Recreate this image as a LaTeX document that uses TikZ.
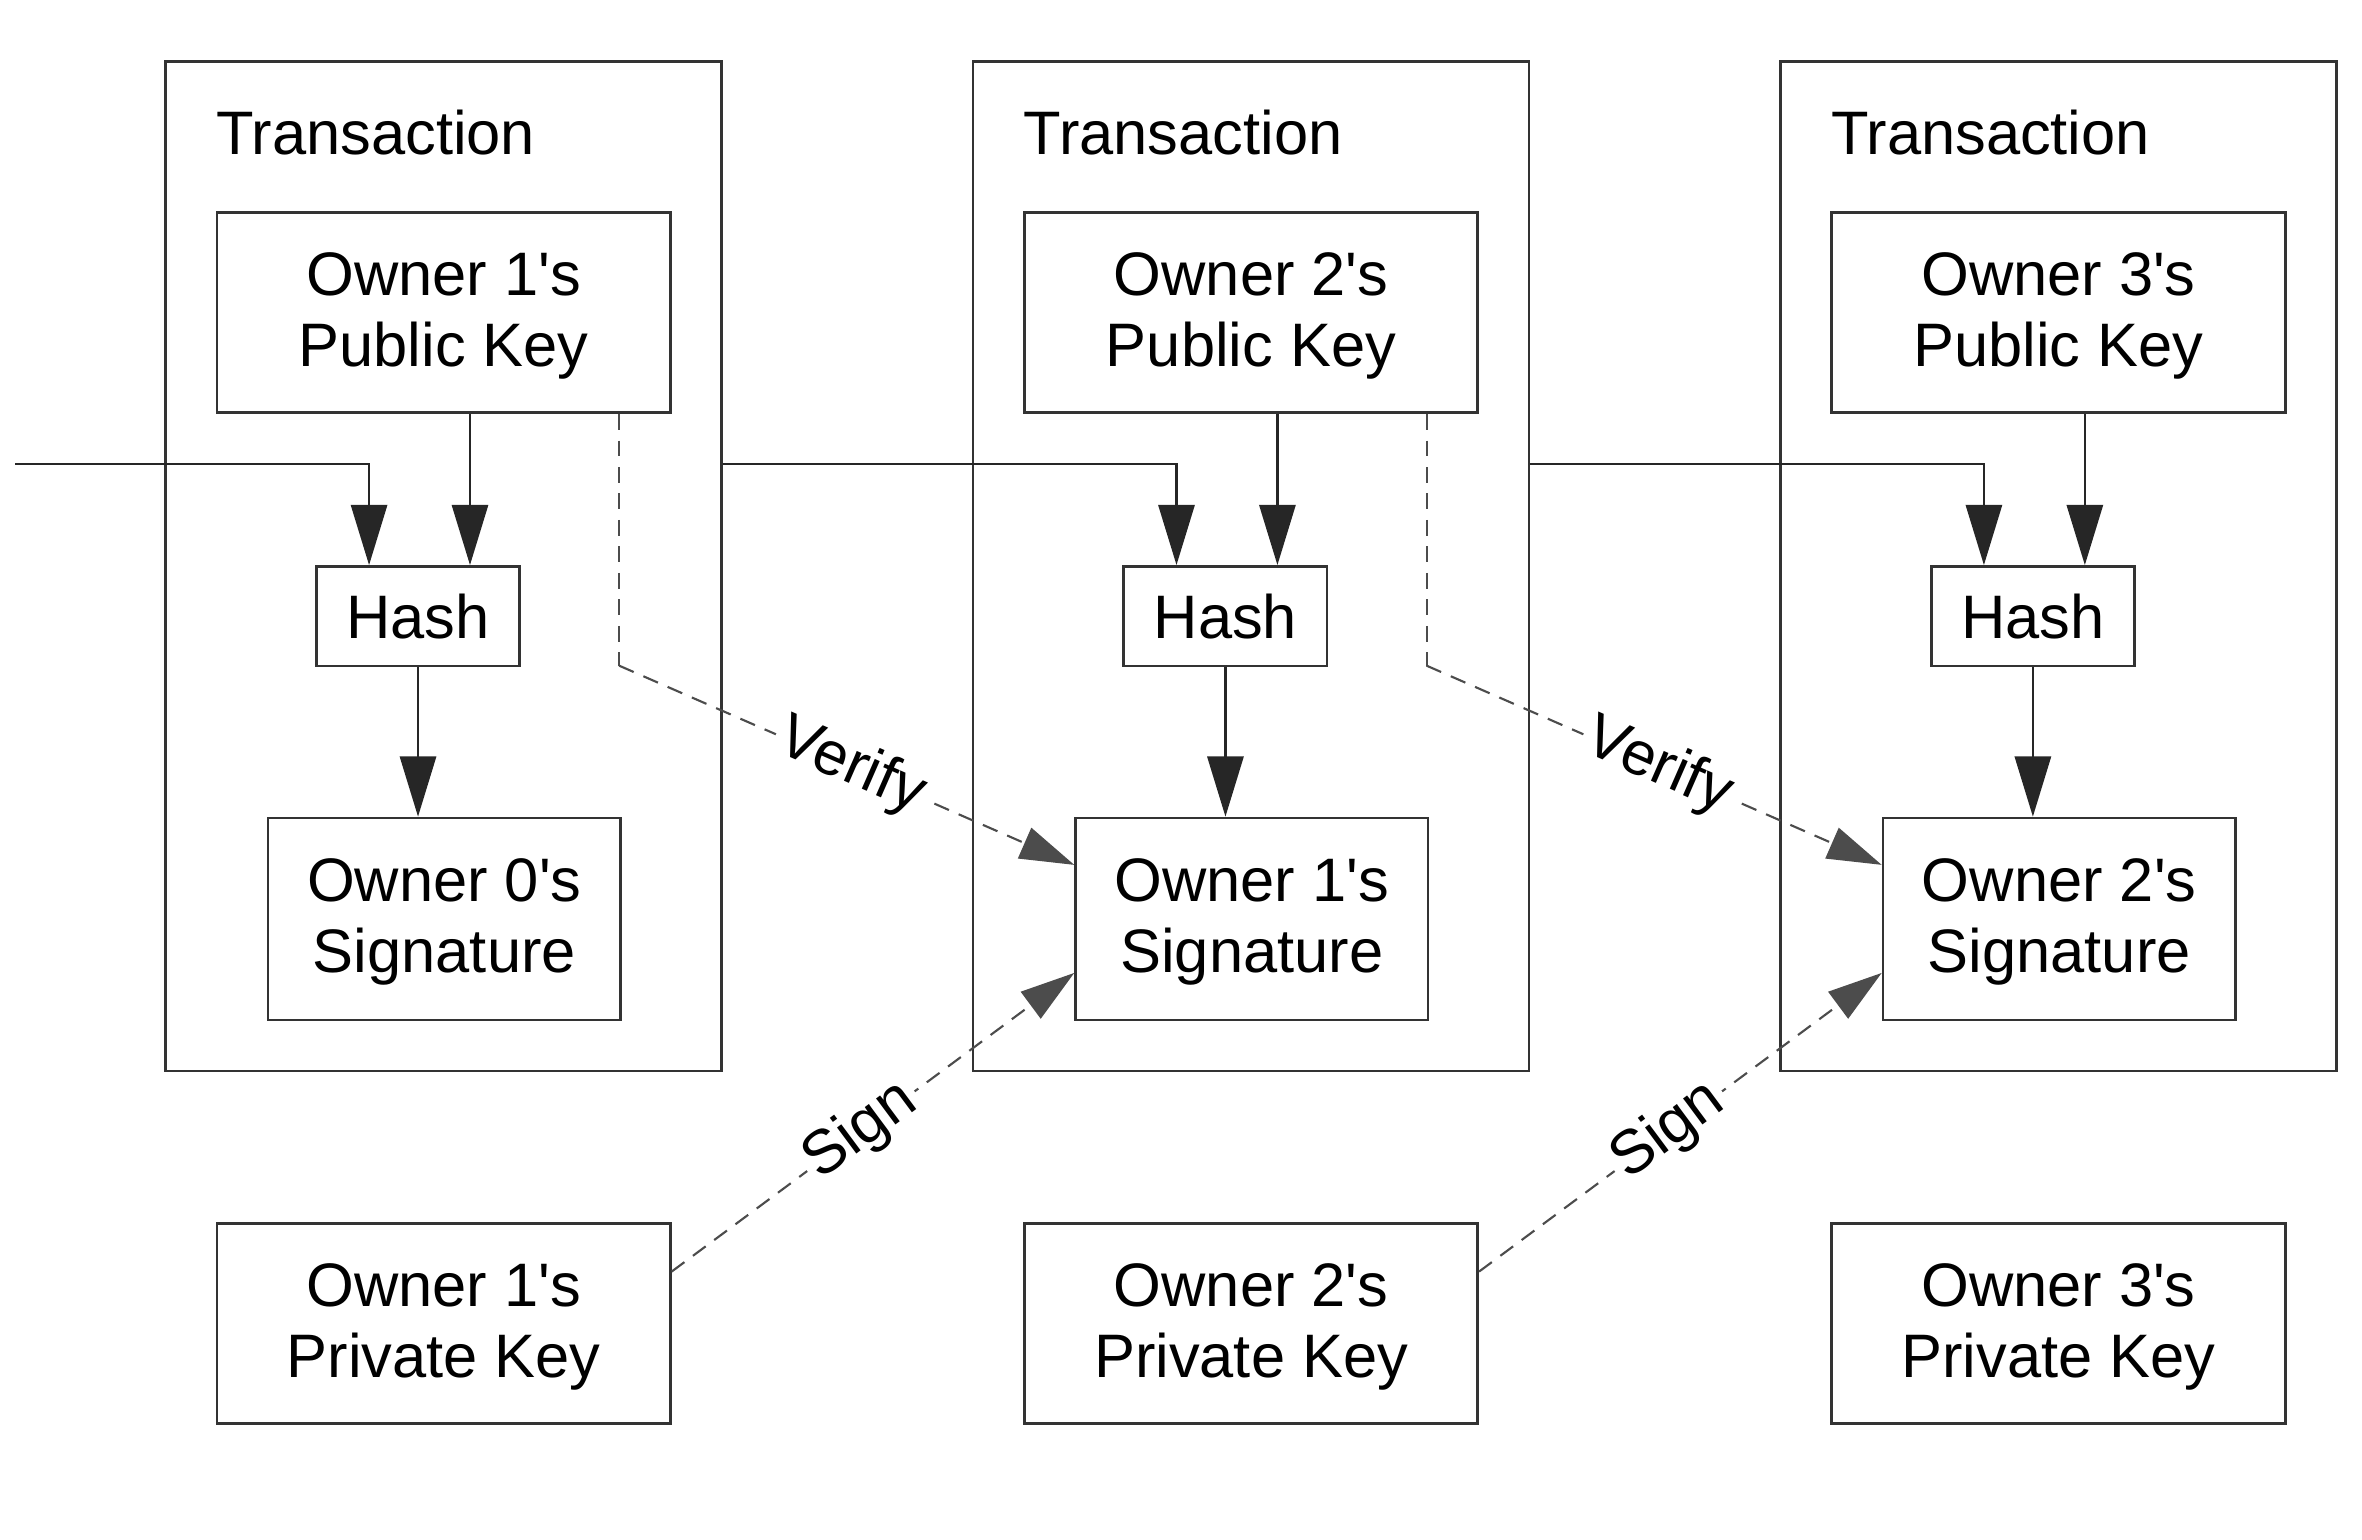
\documentclass[tikz,border=0pt]{standalone}
\usepackage{fontspec}
\setmainfont{Liberation Sans}
\usetikzlibrary{arrows.meta,calc}
\newcommand{\apo}{\XeTeXglyph\XeTeXcharglyph"27\relax}
\tikzset{
 box/.style={draw=black!80,line width=0.5pt,inner sep=0pt,align=center,font=\fontsize{11.6}{13.4}\selectfont},
 arr/.style={draw=black!85,line width=0.5pt,-{Triangle[length=0.4cm,width=0.24cm]}},
 darr/.style={draw=black!70,line width=0.4pt,dashed,dash pattern=on 3pt off 2pt,-{Triangle[length=0.36cm,width=0.22cm]}},
 dln/.style={draw=black!70,line width=0.4pt,dash pattern=on 3pt off 2pt},
 lbl/.style={fill=white,inner sep=1pt,font=\fontsize{11.6}{13}\selectfont}
}
\begin{document}
\begin{tikzpicture}
\useasboundingbox (0,0) rectangle (15.68,-10.22);
\foreach \i/\o in {1/0,2/5.36,3/10.72}{
 \node[box,minimum width=3.69cm,minimum height=6.70cm] (tr\i) at (2.945+\o,-3.76) {};
 \node[anchor=west,font=\fontsize{11.6}{13}\selectfont,inner sep=0pt] (tl\i) at (1.43+\o,-0.88) {Transaction};
 \node[box,minimum width=3.01cm,minimum height=1.33cm] (pub\i) at (2.945+\o,-2.075) {\strut Owner \i\apo s\\Public Key};
 \node[box,minimum width=1.35cm,minimum height=0.66cm] (hash\i) at (2.775+\o,-4.09) {Hash};
 \pgfmathtruncatemacro{\j}{\i-1}
 \node[box,minimum width=2.34cm,minimum height=1.34cm] (sig\i) at (2.95+\o,-6.10) {\strut Owner \j\apo s\\Signature};
 \node[box,minimum width=3.01cm,minimum height=1.33cm] (priv\i) at (2.945+\o,-8.785) {\strut Owner \i\apo s\\Private Key};
 \draw[arr] (pub\i.south -| {$(hash\i.north)+(0.345,0)$}) -- ($(hash\i.north)+(0.345,0)$);
 \draw[arr] (hash\i.south) -- (hash\i.south |- sig\i.north);
}
\coordinate (in1) at (0.1,-3.08);
\coordinate (in2) at (tr1.east |- in1);
\coordinate (in3) at (tr2.east |- in1);
\foreach \i in {1,2,3}{
 \draw[arr] (in\i) -| ($(hash\i.north)+(-0.325,0)$);
}
\foreach \i/\k in {1/2,2/3}{
 \coordinate (vb\i) at ($(pub\i.south)+(1.165,0)$);
 \coordinate (vc\i) at ($(vb\i)+(0,-1.67)$);
 \coordinate (ve\i) at ($(sig\k.north west)+(0,-0.32)$);
 \draw[dln] (vb\i) -- (vc\i);
 \draw[darr] (vc\i) -- node[lbl,sloped,pos=0.51]{Verify} (ve\i);
 \coordinate (ss\i) at ($(priv\i.north east)+(0,-0.33)$);
 \coordinate (se\i) at ($(sig\k.south west)+(0,0.32)$);
 \draw[darr] (ss\i) -- node[lbl,sloped,pos=0.47]{Sign} (se\i);
}
\end{tikzpicture}
\end{document}
